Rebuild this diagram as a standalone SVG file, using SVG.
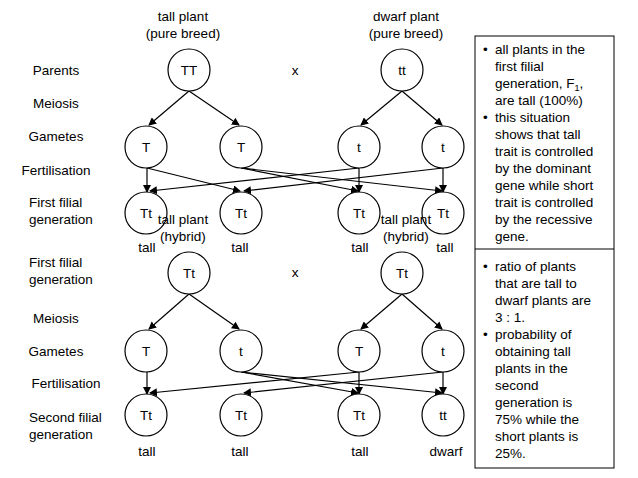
<svg xmlns="http://www.w3.org/2000/svg" width="638" height="478" viewBox="0 0 638 478">
<defs><marker id="ah" markerWidth="8" markerHeight="8" refX="7" refY="4" orient="auto" markerUnits="userSpaceOnUse"><path d="M0,0 L8,4 L0,8 z" fill="#000"/></marker></defs>
<style>
text{font-family:"Liberation Sans",Arial,sans-serif;font-size:13.5px;fill:#000}
.c{text-anchor:middle}
circle{fill:#fff;stroke:#000;stroke-width:1.2}
#connectors line{stroke:#000;stroke-width:1.2;marker-end:url(#ah)}
</style>
<rect width="638" height="478" fill="#fff"/>
<g id="labels">
<text class="c" x="183" y="21">tall plant</text><text class="c" x="183" y="38">(pure breed)</text>
<text class="c" x="406" y="21">dwarf plant</text><text class="c" x="406" y="38">(pure breed)</text>
<text class="c" x="56" y="75">Parents</text><text class="c" x="56" y="108">Meiosis</text>
<text class="c" x="56" y="141">Gametes</text><text class="c" x="56" y="175">Fertilisation</text>
<text x="29" y="207">First filial</text><text x="29" y="224">generation</text>
<text class="c" x="295" y="75">x</text>
<text class="c" x="147" y="252">tall</text><text class="c" x="240" y="252">tall</text>
<text class="c" x="360" y="252">tall</text><text class="c" x="445" y="252">tall</text>
<text x="29" y="267">First filial</text><text x="29" y="284">generation</text>
<text class="c" x="295" y="277">x</text>
<text class="c" x="56" y="323">Meiosis</text><text class="c" x="56" y="356">Gametes</text>
<text class="c" x="66" y="388">Fertilisation</text>
<text x="29" y="422">Second filial</text><text x="29" y="439">generation</text>
<text class="c" x="147" y="456">tall</text><text class="c" x="240" y="456">tall</text>
<text class="c" x="360" y="456">tall</text><text class="c" x="446" y="456">dwarf</text>
</g>
<g id="connectors">
<line x1="189" y1="91" x2="149" y2="125"/><line x1="189" y1="91" x2="239" y2="125"/>
<line x1="402" y1="91" x2="361" y2="125"/><line x1="402" y1="91" x2="442" y2="125"/>
<line x1="147" y1="168" x2="147" y2="192"/><line x1="147" y1="168" x2="240" y2="191"/>
<line x1="241" y1="168" x2="358" y2="191"/><line x1="241" y1="168" x2="442" y2="191"/>
<line x1="359" y1="168" x2="359" y2="192"/><line x1="359" y1="168" x2="150" y2="191"/>
<line x1="443" y1="168" x2="443" y2="192"/><line x1="443" y1="168" x2="244" y2="191"/>
<line x1="189" y1="294" x2="149" y2="329"/><line x1="189" y1="294" x2="239" y2="329"/>
<line x1="402" y1="294" x2="361" y2="329"/><line x1="402" y1="294" x2="442" y2="329"/>
<line x1="147" y1="372" x2="147" y2="394"/><line x1="241" y1="372" x2="358" y2="393"/>
<line x1="241" y1="372" x2="442" y2="393"/><line x1="359" y1="372" x2="359" y2="394"/>
<line x1="359" y1="372" x2="150" y2="393"/><line x1="443" y1="372" x2="443" y2="394"/>
<line x1="443" y1="372" x2="244" y2="393"/>
</g>
<g id="n-TT"><circle cx="189" cy="70" r="21"/><text class="c" x="189" y="75">TT</text></g>
<g id="n-tt"><circle cx="402" cy="70" r="21"/><text class="c" x="402" y="75">tt</text></g>
<g id="g1"><circle cx="146" cy="147" r="21"/><text class="c" x="146" y="152">T</text></g>
<g id="g2"><circle cx="241" cy="147" r="21"/><text class="c" x="241" y="152">T</text></g>
<g id="g3"><circle cx="359" cy="147" r="21"/><text class="c" x="359" y="152">t</text></g>
<g id="g4"><circle cx="443" cy="147" r="21"/><text class="c" x="443" y="152">t</text></g>
<g id="f1"><circle cx="146" cy="213" r="21"/><text class="c" x="146" y="218">Tt</text></g>
<g id="f2"><circle cx="241" cy="213" r="21"/><text class="c" x="241" y="218">Tt</text></g>
<g id="f3"><circle cx="359" cy="213" r="21"/><text class="c" x="359" y="218">Tt</text></g>
<g id="f4"><circle cx="443" cy="213" r="21"/><text class="c" x="443" y="218">Tt</text></g>
<g id="hybrid-labels">
<text class="c" x="183" y="224">tall plant</text><text class="c" x="183" y="241">(hybrid)</text>
<text class="c" x="406" y="224">tall plant</text><text class="c" x="406" y="241">(hybrid)</text>
</g>
<g id="p2a"><circle cx="189" cy="273" r="21"/><text class="c" x="189" y="278">Tt</text></g>
<g id="p2b"><circle cx="402" cy="273" r="21"/><text class="c" x="402" y="278">Tt</text></g>
<g id="h1"><circle cx="146" cy="351" r="21"/><text class="c" x="146" y="356">T</text></g>
<g id="h2"><circle cx="241" cy="351" r="21"/><text class="c" x="241" y="356">t</text></g>
<g id="h3"><circle cx="359" cy="351" r="21"/><text class="c" x="359" y="356">T</text></g>
<g id="h4"><circle cx="443" cy="351" r="21"/><text class="c" x="443" y="356">t</text></g>
<g id="s1"><circle cx="146" cy="415" r="21"/><text class="c" x="146" y="420">Tt</text></g>
<g id="s2"><circle cx="241" cy="415" r="21"/><text class="c" x="241" y="420">Tt</text></g>
<g id="s3"><circle cx="359" cy="415" r="21"/><text class="c" x="359" y="420">Tt</text></g>
<g id="s4"><circle cx="443" cy="415" r="21"/><text class="c" x="443" y="420">tt</text></g>
<g id="notes">
<rect x="475" y="36" width="139" height="432" fill="none" stroke="#000"/>
<line x1="475" y1="249" x2="614" y2="249" stroke="#000"/>
<text x="483" y="54">•</text><text x="495" y="54">all plants  in the</text>
<text x="495" y="71">first filial</text>
<text x="495" y="88">generation, F<tspan font-size="9" dy="3">1</tspan><tspan dy="-3">,</tspan></text>
<text x="495" y="105">are tall (100%)</text>
<text x="483" y="122">•</text><text x="495" y="122">this situation</text>
<text x="495" y="139">shows that tall</text>
<text x="495" y="156">trait is controlled</text>
<text x="495" y="173">by the dominant</text>
<text x="495" y="190">gene while short</text>
<text x="495" y="207">trait is controlled</text>
<text x="495" y="224">by the recessive</text>
<text x="495" y="241">gene.</text>
<text x="483" y="271">•</text><text x="495" y="271">ratio of plants</text>
<text x="495" y="288">that are tall to</text>
<text x="495" y="305">dwarf plants are</text>
<text x="495" y="322">3 : 1.</text>
<text x="483" y="339">•</text><text x="495" y="339">probability of</text>
<text x="495" y="356">obtaining tall</text>
<text x="495" y="373">plants in the</text>
<text x="495" y="390">second</text>
<text x="495" y="407">generation is</text>
<text x="495" y="424">75% while the</text>
<text x="495" y="441">short plants is</text>
<text x="495" y="458">25%.</text>
</g>
</svg>
